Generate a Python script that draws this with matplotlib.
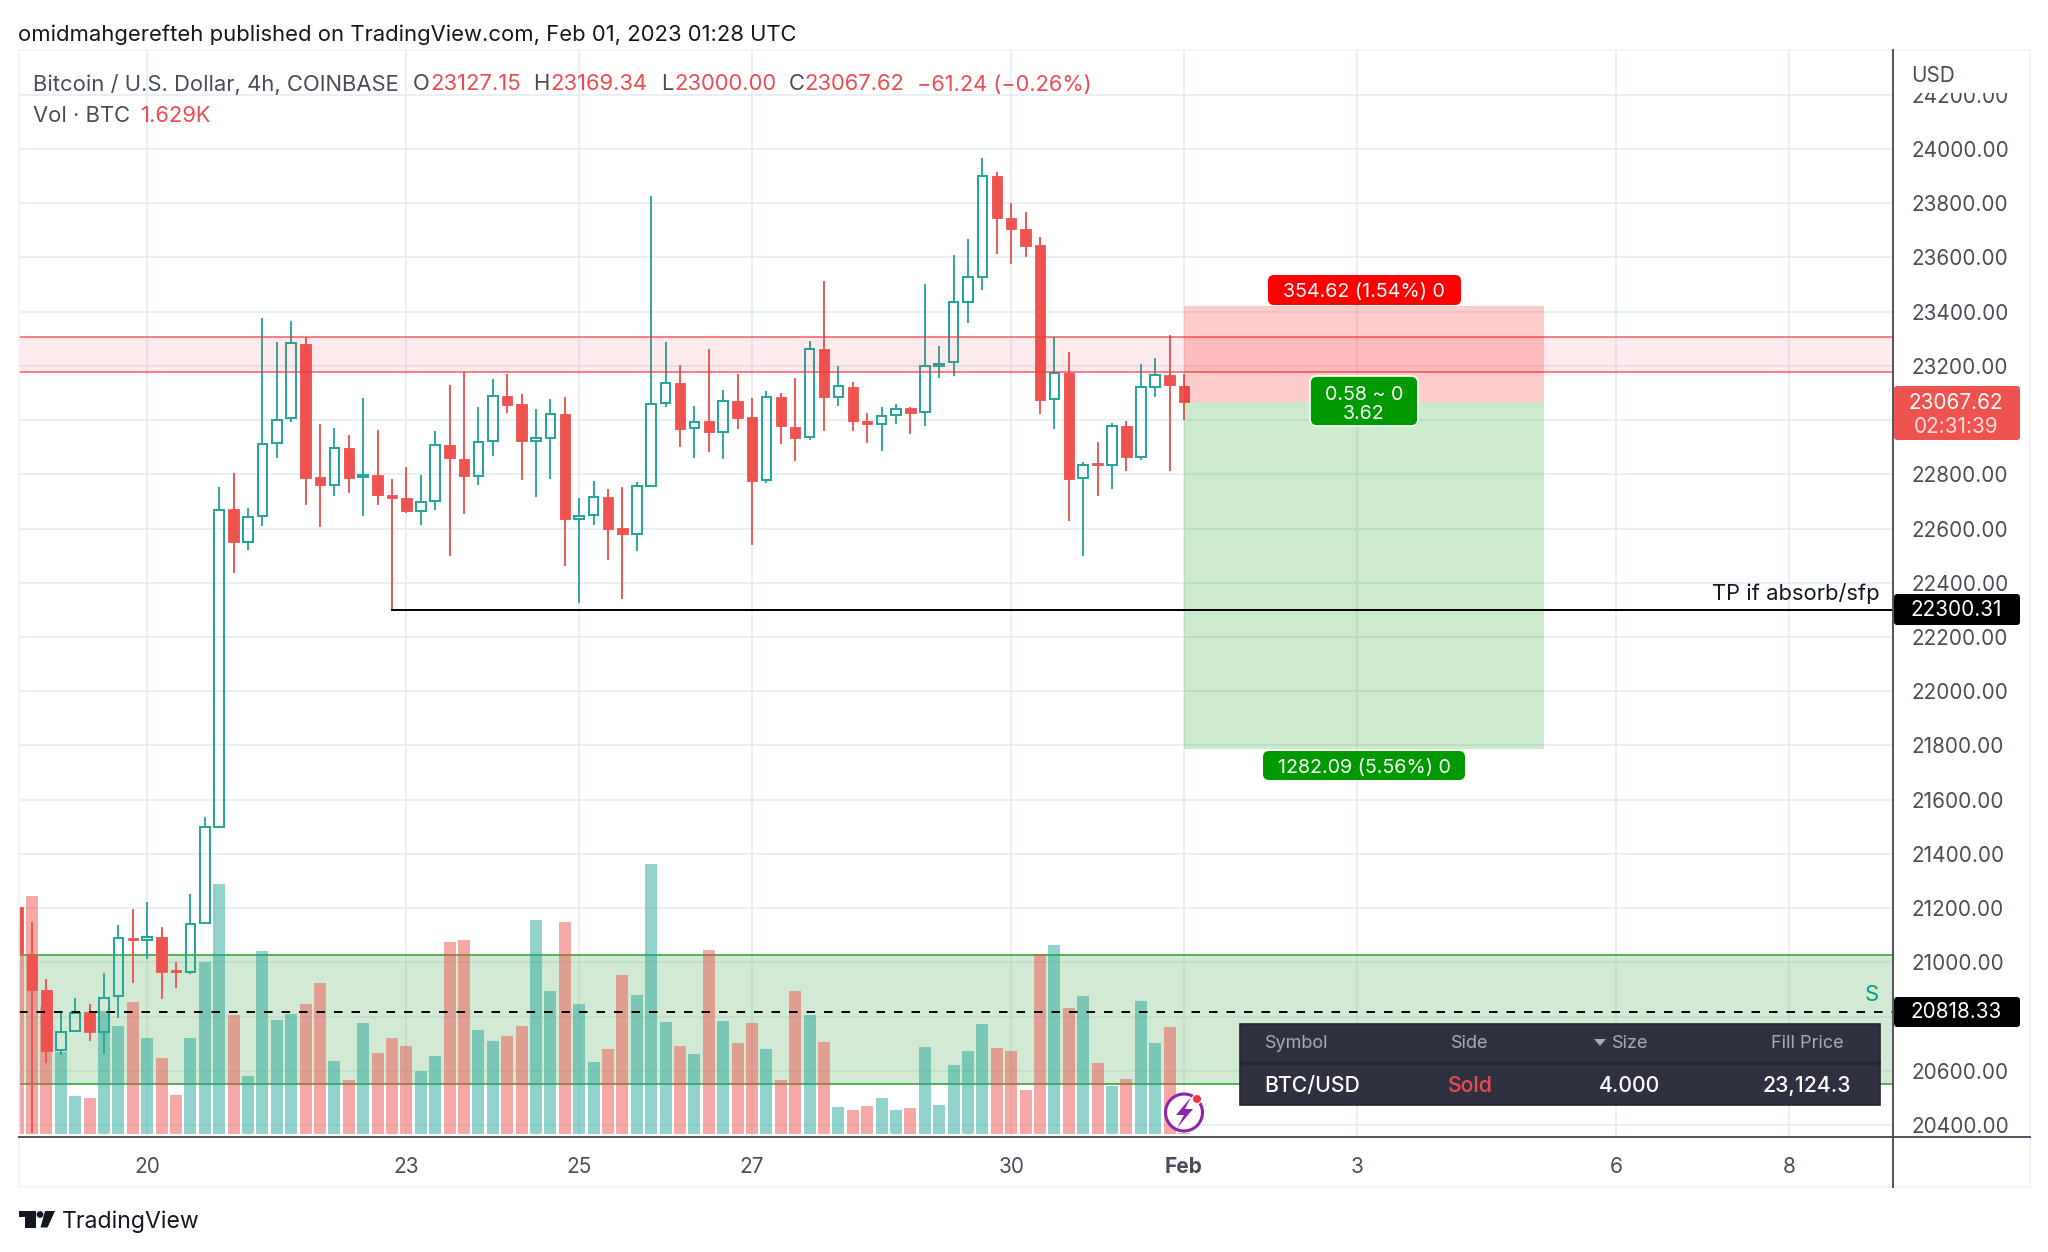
import matplotlib
matplotlib.use("Agg")
import matplotlib.pyplot as plt
from matplotlib.patches import FancyBboxPatch, Rectangle, Circle, Polygon

plt.rcParams['font.family'] = ['Inter', 'DejaVu Sans']

# ---- OHLC per 4h bar, oldest first; the last bar opens Feb 1 00:00 (offset 0) ----
opens = [21204,21027,20898,20676,20746,20817,20743,20876,21091,21082,21093,20967,20964,21145,21500,
         22672,22549,22646,22914,23008,23281,22789,22762,22897,22789,22799,22724,22713,22666,22700,
         22908,22856,22793,22922,23089,23058,22924,22935,23024,22635,22649,22717,22601,22581,22758,
         23062,23136,22970,22997,22956,23072,23010,22778,23084,22973,22936,23262,23085,23123,22997,
         22986,23018,23045,23031,23201,23213,23437,23529,23900,23744,23706,23645,23079,23175,22785,
         22837,22833,22979,22863,23123,23168,23127.15]
highs = [21204,21147,20937,20818,20870,20846,20962,21137,21197,21224,21131,21000,21251,21535,22754,
         22804,22677,23375,23287,23366,23308,22984,22970,22944,23083,22963,22781,22827,22796,22960,
         23131,23176,23048,23152,23169,23096,23041,23077,23086,22714,22775,22745,22752,22772,23827,
         23287,23202,23052,23261,23110,23169,23083,23106,23100,23155,23292,23513,23200,23140,23025,
         23048,23058,23047,23501,23273,23608,23668,23965,23914,23802,23768,23675,23305,23250,22847,
         22918,22990,22998,23206,23229,23314,23169.34]
lows = [21030,20371,20627,20658,20746,20711,20662,20796,20925,21013,20866,20904,20958,21145,21500,
        22435,22521,22609,22861,22994,22687,22606,22721,22732,22646,22687,22300.31,22657,22613,22668,
        22500,22653,22759,22869,23025,22779,22715,22783,22463,22327,22613,22484,22340,22518,22758,
        23050,22900,22861,22882,22855,22968,22540,22767,22913,22848,22927,22961,23052,22960,22917,
        22886,22984,22950,22978,23155,23163,23357,23480,23613,23575,23602,23022,22968,22627,22500,
        22721,22746,22813,22852,23086,22813,23000.00]
closes = [21030,20898,20674,20744,20812,20742,20870,21088,21082,21093,20965,20963,21142,21498,22668,
          22552,22644,22913,23002,23283,22788,22761,22897,22788,22799,22722,22713,22665,22699,22907,
          22859,22795,22920,23088,23057,22924,22935,23022,22635,22647,22716,22599,22580,22756,23061,
          23138,22968,22994,22955,23070,23009,22774,23084,22979,22935,23261,23084,23125,22995,22987,
          23015,23042,23026,23200,23207,23436,23528,23899,23745,23705,23643,23074,23174,22784,22834,
          22833,22979,22863,23122,23166,23128,23067.62]
# volume readings, relative units (last bar is the live 1.629K)
volumes = [8.03,8.73,5.39,4.04,2.74,2.66,5.29,4.84,5.54,4.46,3.88,2.76,4.46,6.74,9.09,5.15,3.33,7.09,5.01,5.18,
           5.49,6.12,3.79,3.21,4.93,4.01,4.46,4.23,3.49,3.93,7.34,7.40,4.71,4.38,4.54,4.84,8.01,5.88,7.95,5.49,
           3.76,4.13,6.35,5.76,9.68,4.96,4.23,3.99,7.12,4.98,4.32,4.93,4.13,3.21,5.87,5.15,4.35,2.40,2.32,2.43,
           2.66,2.32,2.38,4.21,2.46,3.66,4.08,4.90,4.18,4.07,2.91,6.98,7.26,5.36,5.73,3.71,3.03,3.24,5.57,4.32,
           4.79,1.63]

first_offset = -(len(opens) - 1)
offsets = list(range(first_offset, 1))

date_ticks = [-72, -54, -42, -30, -12, 0, 12, 30, 42]
date_labels = ['20', '23', '25', '27', '30', 'Feb', '3', '6', '8']
price_ticks = [20400 + 200 * i for i in range(20)]
hidden_price_labels = [20800, 23000]   # covered by the price tags in the reference

band_red = (23179, 23308)
band_green = (20552, 21027)
tp_level = 22300.31
tp_start = -55
stop_level = 20818.33
entry = 23067.62
risk = 354.62
reward = 1282.09
rr_span = (0, 25)
last_price = 23067.62

UP = '#26a69a'
DOWN = '#ef5350'
GRID = '#e3ecf3'
W, H = 2048, 1252
L, R, T, B = 18.5, 1893.0, 50.0, 1136.7

fig = plt.figure(figsize=(W / 100, H / 100), dpi=100, facecolor='white')
rect = [L / W, 1 - B / H, (R - L) / W, (B - T) / H]

PX_PER_BAR = 14.4
xlim = ((L - 1184) / PX_PER_BAR, (R - 1184) / PX_PER_BAR)
PX_PER_USD = 0.2711
ylim = (24000 - (B - 149) / PX_PER_USD, 24000 + (149 - T) / PX_PER_USD)
vlim = (11.61 - (B - 800) * 0.03, 11.61 - (T - 800) * 0.03)

# grid, tick labels and the support zone (below the volume bars)
ax_g = fig.add_axes(rect, zorder=1)
ax_g.set_xlim(xlim); ax_g.set_ylim(ylim)
ax_g.set_xticks(date_ticks); ax_g.set_xticklabels(date_labels)
ax_g.set_yticks(price_ticks)
ax_g.set_yticklabels(['' if p in hidden_price_labels else f'{p:.2f}' for p in price_ticks])
ax_g.yaxis.tick_right()
ax_g.grid(True, color=GRID, lw=1.1)
ax_g.set_axisbelow(True)
ax_g.tick_params(axis='both', length=0, labelcolor='#4a4d57')
ax_g.tick_params(axis='y', pad=13.2, labelsize=14.9)
ax_g.tick_params(axis='x', pad=14.5, labelsize=15)
for lab in ax_g.get_xticklabels():
    if lab.get_text() == 'Feb':
        lab.set_fontweight('bold')
for s in ax_g.spines.values():
    s.set_visible(False)
ax_g.axhspan(*band_green, color='#4caf50', alpha=0.25, lw=0, zorder=2)
for v in band_green:
    ax_g.axhline(v, color='#4caf50', lw=1.35, zorder=2)

# volume pane
ax_v = fig.add_axes(rect, zorder=2)
ax_v.set_xlim(xlim); ax_v.set_ylim(vlim); ax_v.axis('off')
VOL_BASE = 1.58
for x, o, c, v in zip(offsets, opens, closes, volumes):
    ax_v.bar(x, v - VOL_BASE, bottom=VOL_BASE, width=0.84, color=(UP if c >= o else DOWN), alpha=0.5, lw=0)

# candles and drawings
ax = fig.add_axes(rect, zorder=3)
ax.set_xlim(xlim); ax.set_ylim(ylim); ax.axis('off')
BODY = 0.66
for x, o, h, l, c in zip(offsets, opens, highs, lows, closes):
    top, bot = max(o, c), min(o, c)
    if c >= o:
        ax.vlines(x, top, h, color=UP, lw=1.35, zorder=3)
        ax.vlines(x, l, bot, color=UP, lw=1.35, zorder=3)
        ax.add_patch(Rectangle((x - BODY / 2, bot), BODY, top - bot, fc='none', ec=UP, lw=1.45, zorder=3))
    else:
        ax.vlines(x, l, h, color=DOWN, lw=1.35, zorder=3)
        ax.add_patch(Rectangle((x - BODY / 2 - 0.03, bot), BODY + 0.06, max(top - bot, 8), fc=DOWN, ec=DOWN, lw=0.6, zorder=3))

# resistance zone (above the candles)
ax.axhspan(*band_red, color='#f23645', alpha=0.10, lw=0, zorder=4)
for v in band_red:
    ax.axhline(v, color='#f23645', alpha=0.7, lw=1.25, zorder=4)

# risk/reward tool
ax.fill_between(rr_span, entry, entry + risk, color='#ff0000', alpha=0.2, lw=0, zorder=5)
ax.fill_between(rr_span, entry - reward, entry, color='#009900', alpha=0.2, lw=0, zorder=5)

# levels
ax.plot([tp_start, xlim[1]], [tp_level, tp_level], color='black', lw=1.4, zorder=6)
ax.plot(xlim, [stop_level, stop_level], color='black', lw=1.4, dashes=(4.4, 4.6), zorder=6)

# overlay in pixel coordinates for the chart furniture
ov = fig.add_axes([0, 0, 1, 1], zorder=10)
ov.set_xlim(0, W); ov.set_ylim(H, 0); ov.axis('off'); ov.patch.set_alpha(0)

def txt(x, y, s, size=14.9, color='#4a4d57', ha='left', **kw):
    ov.text(x, y, s, fontsize=size, color=color, ha=ha, va='center', **kw)

def box(x0, y0, x1, y1, fc, ec='none', r=5, lw=0, z=2):
    ov.add_patch(FancyBboxPatch((x0 + r, y0 + r), x1 - x0 - 2 * r, y1 - y0 - 2 * r,
                                boxstyle=f'round,pad={r},rounding_size={r}', fc=fc, ec=ec, lw=lw, zorder=z))

# right strip top mask + frame
ov.add_patch(Rectangle((R + 1, T), 2029 - R, 43, fc='white', ec='none', zorder=1))
ov.plot([L, 2030, 2030, L, L], [T, T, 1187, 1187, T], color='#f0f3fa', lw=1.2, zorder=1)
ov.plot([L, 2030], [B, B], color='#50535e', lw=1.4, zorder=1)
ov.plot([R, R], [T, 1187], color='#50535e', lw=1.4, zorder=1)

txt(1911, 76, 'USD', size=14.9)
RED_TXT = '#ef4a4f'
txt(18, 35, 'omidmahgerefteh published on TradingView.com, Feb 01, 2023 01:28 UTC', size=15.85, color='#131722')
txt(33, 84.5, 'Bitcoin / U.S. Dollar, 4h, COINBASE', size=15.85)
for x, lab, xv, val in [(413, 'O', 430, '23127.15'), (533, 'H', 550, '23169.34'),
                        (661, 'L', 674, '23000.00'), (789, 'C', 804, '23067.62')]:
    txt(x, 84.5, lab, size=15.85)
    txt(xv, 84.5, val, size=15.85, color=RED_TXT)
txt(917, 84.5, '\u221261.24 (\u22120.26%)', size=15.7, color=RED_TXT)
txt(33, 116.5, 'Vol \u00b7 BTC', size=15.85)
txt(141, 116.5, '1.629K', size=15.85, color=RED_TXT)

# risk/reward labels
box(1268, 275, 1461, 305, '#ff0000', r=6)
txt(1364, 292, '354.62 (1.54%) 0', size=14.2, color='white', ha='center')
box(1263, 751, 1465, 780, '#009900', r=6)
txt(1364, 767.5, '1282.09 (5.56%) 0', size=14.2, color='white', ha='center')
box(1310, 376, 1418, 426, '#009900', ec='white', r=7, lw=1.2)
txt(1364, 395, '0.58 ~ 0', size=14.2, color='white', ha='center')
txt(1364, 414, '3.62', size=14.2, color='white', ha='center')

# TP / S notes
txt(1880, 593.5, 'TP if absorb/sfp', size=15.85, color='#131722', ha='right')
txt(1872, 995, 'S', size=15.85, color='#089981', ha='center')

# price-axis tags
box(1894, 386, 2020, 440, DOWN, r=3)
txt(1956, 403, f'{last_price:.2f}', color='white', ha='center')
txt(1956, 427, '02:31:39', color='#fbdcdc', ha='center')
box(1894, 594, 2020, 625, 'black', r=3)
txt(1956, 610, f'{tp_level:.2f}', color='white', ha='center')
box(1894, 997, 2020, 1027, 'black', r=3)
txt(1956, 1012, f'{stop_level:.2f}', color='white', ha='center')

# order table
ov.add_patch(Rectangle((1240, 1024), 640, 81, fc='#2f3040', ec='#26262f', lw=1.2, zorder=2))
ov.plot([1241, 1879], [1063, 1063], color='#26262f', lw=2, zorder=3)
for x, s, ha in [(1265, 'Symbol', 'left'), (1470, 'Side', 'center'), (1630, 'Size', 'center'), (1807, 'Fill Price', 'center')]:
    ov.text(x, 1044, s, fontsize=13, color='#a9abb5', ha=ha, va='center', zorder=4)
ov.add_patch(Polygon([[1594, 1039], [1606, 1039], [1600, 1046]], fc='#a9abb5', ec='none', zorder=4))
for x, s, ha, col in [(1264, 'BTC/USD', 'left', 'white'), (1470, 'Sold', 'center', '#ef4a4f'),
                      (1630, '4.000', 'center', 'white'), (1807, '23,124.3', 'center', 'white')]:
    ov.text(x, 1086.5, s, fontsize=15.3, color=col, ha=ha, va='center', fontweight='medium', zorder=4)

# flash icon
ov.add_patch(Circle((1184, 1112.5), 18.5, fc='white', ec='#8e24aa', lw=2.2, zorder=5))
ov.add_patch(Polygon([[1191, 1097], [1176, 1115], [1184, 1115], [1177, 1128], [1193, 1109], [1185, 1109]],
                     fc='#8e24aa', ec='none', zorder=6))
ov.add_patch(Circle((1197, 1099), 4.6, fc='#f23645', ec='white', lw=0.8, zorder=7))

# TradingView logo
LOGO = '#131722'
ov.add_patch(Polygon([[18.5, 1211], [35.5, 1211], [35.5, 1227.5], [25, 1227.5], [25, 1216.5], [18.5, 1216.5]], fc=LOGO, ec='none'))
ov.add_patch(Circle((40, 1214.5), 3.4, fc=LOGO, ec='none'))
ov.add_patch(Polygon([[45, 1211], [55, 1211], [47.5, 1227.5], [40.5, 1227.5]], fc=LOGO, ec='none'))
txt(62, 1222, 'TradingView', size=16.6, color='#131722')

fig.savefig('out.png', dpi=100, facecolor='white')
